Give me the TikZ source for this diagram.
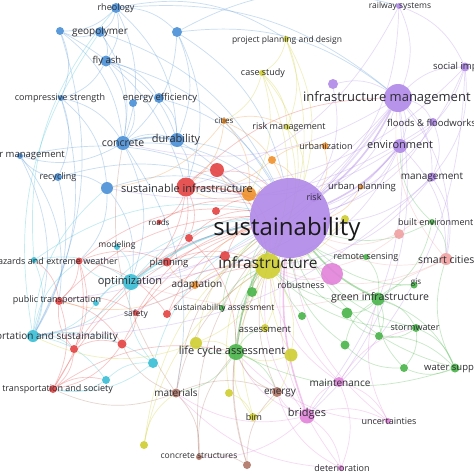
\documentclass[tikz,border=0pt]{standalone}
\usepackage{fontspec}
\setmainfont{Open Sans}
\usetikzlibrary{backgrounds}
\definecolor{cB}{RGB}{74,144,214}
\definecolor{cR}{RGB}{228,66,66}
\definecolor{cC}{RGB}{56,190,214}
\definecolor{cO}{RGB}{240,146,44}
\definecolor{cY}{RGB}{206,206,48}
\definecolor{cP}{RGB}{176,136,232}
\definecolor{cG}{RGB}{72,180,72}
\definecolor{cK}{RGB}{226,130,218}
\definecolor{cS}{RGB}{240,160,160}
\definecolor{cN}{RGB}{176,116,100}
\definecolor{txt}{RGB}{45,45,50}
\tikzset{
  kw/.style={circle,inner sep=0pt,fill opacity=0.9,draw=none},
  lb/.style={text=txt,inner sep=0pt,font=\fontsize{#1}{#1}\selectfont},
  ed/.style={draw=#1,draw opacity=0.3,line width=0.7pt},
  edT/.style={draw=#1,draw opacity=0.45,line width=1.6pt},
}
\begin{document}
\begin{tikzpicture}[x=1pt,y=-1pt]
\useasboundingbox (0,0) rectangle (474,474);
\clip (0,0) rectangle (474,474);
% ---- nodes: blue
\node[kw,fill=cB,minimum size=10pt] (rheo) at (116,8) {};
\node[kw,fill=cB,minimum size=8pt] (b1) at (60,31) {};
\node[kw,fill=cB,minimum size=10pt] (geo) at (100,32) {};
\node[kw,fill=cB,minimum size=10pt] (b2) at (177,32) {};
\node[kw,fill=cB,minimum size=11pt] (fly) at (106,61) {};
\node[kw,fill=cB,minimum size=6pt] (comp) at (61,98) {};
\node[kw,fill=cB,minimum size=8pt] (b3) at (133,103) {};
\node[kw,fill=cB,minimum size=10pt] (ener) at (159,98) {};
\node[kw,fill=cB,minimum size=14pt] (conc) at (123,143) {};
\node[kw,fill=cB,minimum size=14pt] (dura) at (177,140) {};
\node[kw,fill=cB,minimum size=6pt] (watm) at (20,156) {};
\node[kw,fill=cB,minimum size=8pt] (recy) at (58,177) {};
\node[kw,fill=cB,minimum size=12pt] (b4) at (107,188) {};
% red
\node[kw,fill=cR,minimum size=14pt] (r1) at (217,170) {};
\node[kw,fill=cR,minimum size=19pt] (sinf) at (186,187) {};
\node[kw,fill=cR,minimum size=8pt] (r2) at (216,211) {};
\node[kw,fill=cR,minimum size=5pt] (roads) at (159,222) {};
\node[kw,fill=cR,minimum size=8pt] (r3) at (189,238) {};
\node[kw,fill=cR,minimum size=10pt] (r4) at (225,256) {};
\node[kw,fill=cR,minimum size=7pt] (haz) at (79,261) {};
\node[kw,fill=cR,minimum size=9pt] (plan) at (167,262) {};
\node[kw,fill=cR,minimum size=8pt] (pubt) at (59,301) {};
\node[kw,fill=cR,minimum size=6pt] (safe) at (136,313) {};
\node[kw,fill=cR,minimum size=8pt] (r5) at (167,314) {};
\node[kw,fill=cR,minimum size=8pt] (r6) at (74,349) {};
\node[kw,fill=cR,minimum size=9pt] (r7) at (122,344) {};
\node[kw,fill=cR,minimum size=8pt] (tsoc) at (53,389) {};
% cyan
\node[kw,fill=cC,minimum size=6pt] (c1) at (34,260) {};
\node[kw,fill=cC,minimum size=6pt] (model) at (117,247) {};
\node[kw,fill=cC,minimum size=16pt] (opt) at (131,282) {};
\node[kw,fill=cC,minimum size=6pt] (c2) at (96,303) {};
\node[kw,fill=cC,minimum size=12pt] (tsus) at (33,336) {};
\node[kw,fill=cC,minimum size=10pt] (c3) at (153,363) {};
\node[kw,fill=cC,minimum size=8pt] (c4) at (106,380) {};
% orange
\node[kw,fill=cO,minimum size=6pt] (cities) at (224,121) {};
\node[kw,fill=cO,minimum size=8pt] (o1) at (272,160) {};
\node[kw,fill=cO,minimum size=14pt] (o2) at (249,194) {};
\node[kw,fill=cO,minimum size=7pt] (urbz) at (325,146) {};
\node[kw,fill=cO,minimum size=5pt] (upl) at (361,187) {};
\node[kw,fill=cO,minimum size=8pt] (adapt) at (195,285) {};
% purple
\node[kw,fill=cP,minimum size=80pt] (sust) at (290,218) {};
\node[kw,fill=cP,minimum size=6pt] (rail) at (399,6) {};
\node[kw,fill=cP,minimum size=10pt] (p1) at (333,84) {};
\node[kw,fill=cP,minimum size=28pt] (imgmt) at (398,98) {};
\node[kw,fill=cP,minimum size=9pt] (social) at (465,67) {};
\node[kw,fill=cP,minimum size=8pt] (flood) at (433,122) {};
\node[kw,fill=cP,minimum size=14pt] (env) at (400,146) {};
\node[kw,fill=cP,minimum size=9pt] (mgmt) at (432,177) {};
\node[kw,fill=cP,minimum size=10pt] (risk) at (314,197) {};
% yellow
\node[kw,fill=cY,minimum size=6pt] (ppd) at (286,39) {};
\node[kw,fill=cY,minimum size=6pt] (case) at (262,73) {};
\node[kw,fill=cY,minimum size=6pt] (riskm) at (287,127) {};
\node[kw,fill=cY,minimum size=26pt] (infra) at (268,266) {};
\node[kw,fill=cY,minimum size=8pt] (y1) at (345,219) {};
\node[kw,fill=cY,minimum size=12pt] (y2) at (196,343) {};
\node[kw,fill=cY,minimum size=8pt] (assess) at (265,328) {};
\node[kw,fill=cY,minimum size=13pt] (y3) at (291,355) {};
\node[kw,fill=cY,minimum size=8pt] (y4) at (229,393) {};
\node[kw,fill=cY,minimum size=8pt] (bim) at (253,417) {};
\node[kw,fill=cY,minimum size=8pt] (y5) at (144,445) {};
% green
\node[kw,fill=cG,minimum size=6pt] (ben) at (432,222) {};
\node[kw,fill=cG,minimum size=6pt] (rsens) at (366,257) {};
\node[kw,fill=cG,minimum size=7pt] (gis) at (414,285) {};
\node[kw,fill=cG,minimum size=13pt] (ginf) at (378,299) {};
\node[kw,fill=cG,minimum size=10pt] (g1) at (252,292) {};
\node[kw,fill=cG,minimum size=6pt] (sasse) at (222,308) {};
\node[kw,fill=cG,minimum size=8pt] (g2) at (302,316) {};
\node[kw,fill=cG,minimum size=11pt] (g3) at (347,313) {};
\node[kw,fill=cG,minimum size=8pt] (g4) at (379,336) {};
\node[kw,fill=cG,minimum size=9pt] (g6) at (345,345) {};
\node[kw,fill=cG,minimum size=8pt] (g5) at (404,368) {};
\node[kw,fill=cG,minimum size=8pt] (storm) at (416,328) {};
\node[kw,fill=cG,minimum size=9pt] (wsup) at (455,368) {};
\node[kw,fill=cG,minimum size=16pt] (lca) at (236,352) {};
% pink
\node[kw,fill=cK,minimum size=22pt] (pk) at (332,274) {};
\node[kw,fill=cK,minimum size=10pt] (maint) at (339,382) {};
\node[kw,fill=cK,minimum size=15pt] (bridges) at (307,416) {};
\node[kw,fill=cK,minimum size=6pt] (uncert) at (388,421) {};
\node[kw,fill=cK,minimum size=6pt] (deter) at (341,468) {};
% salmon
\node[kw,fill=cS,minimum size=10pt] (sal1) at (399,234) {};
\node[kw,fill=cS,minimum size=12pt] (smart) at (446,259) {};
% brown
\node[kw,fill=cN,minimum size=9pt] (mat) at (176,393) {};
\node[kw,fill=cN,minimum size=10pt] (energy) at (277,392) {};
\node[kw,fill=cN,minimum size=6pt] (cstr) at (199,457) {};
\node[kw,fill=cN,minimum size=8pt] (br1) at (247,465) {};
% ---- edges
\begin{pgfonlayer}{background}
\fill[white] (0,0) rectangle (474,474);
\foreach \a/\b in {rheo/geo,rheo/fly,rheo/b2,rheo/conc,rheo/dura,rheo/imgmt,b1/comp,b1/conc,b1/tsus,geo/fly,geo/conc,fly/conc,fly/dura,fly/ener,fly/sust,comp/conc,comp/recy,comp/b4,comp/tsus,ener/dura,ener/sust,b2/dura,b2/conc,b2/sust,b2/sinf,b2/imgmt,conc/dura,conc/sust,conc/watm,dura/sust,dura/sinf,recy/b4,recy/watm,recy/sust,b4/sust,b4/opt,watm/tsus,watm/pubt,b3/ener,b3/conc,conc/mat,geo/b1,rheo/b1,conc/opt,dura/infra,b4/haz,recy/tsus,fly/comp,rheo/ppd,geo/sust,b1/sinf,watm/sust,b2/rail}
  \draw[ed=cB] (\a) to[bend left=22] (\b);
\foreach \a/\b in {r1/sust,r2/sust,r3/sust,r4/sust,plan/sust,roads/sust,haz/pubt,haz/sust,haz/r6,pubt/tsoc,pubt/sust,pubt/r7,safe/r7,safe/sust,r5/sust,r6/tsoc,r6/r7,r7/tsoc,r7/sust,r6/sust,tsoc/c4,haz/plan,sinf/opt,r1/infra,sinf/r1,sinf/roads,sinf/plan,sinf/r3,pubt/safe,haz/r5,tsoc/sust,plan/infra,r5/infra,safe/infra,r6/pubt,haz/tsoc,sinf/imgmt,r3/lca,c1/pubt,tsoc/lca}
  \draw[ed=cR] (\a) to[bend left=22] (\b);
\foreach \a/\b in {c1/tsus,c1/opt,model/opt,opt/sust,opt/tsus,c2/tsus,c2/sust,tsus/r6,tsus/c3,tsus/c4,tsus/haz,c3/opt,c3/sust,c4/tsoc,c4/c3,tsus/b4,opt/haz,c1/rheo,tsus/geo,c3/tsoc,c2/opt,opt/infra,c1/sust}
  \draw[ed=cC] (\a) to[bend left=22] (\b);
\foreach \a/\b in {cities/sust,cities/o2,o1/sust,o2/sust,o2/sinf,urbz/sust,upl/sust,adapt/sust,adapt/infra,cities/riskm,o2/infra,o1/urbz,cities/sinf,adapt/plan,o2/r1,cities/b4,o1/sinf,adapt/pubt}
  \draw[ed=cO] (\a) to[bend left=22] (\b);
\foreach \a/\b in {ppd/case,ppd/sust,ppd/riskm,case/sust,case/infra,case/riskm,riskm/sust,infra/y2,infra/assess,infra/y3,y2/lca,y2/sust,assess/sust,y3/sust,y4/sust,bim/sust,y5/mat,y5/infra,y1/sust,y3/bim,y4/bim,ppd/infra,riskm/infra,case/o2,y5/sust,y2/tsus,bim/lca,y3/lca,y1/infra,case/cities}
  \draw[ed=cY] (\a) to[bend left=22] (\b);
\foreach \a/\b in {rail/imgmt,rail/sust,p1/imgmt,p1/sust,social/sust,social/env,flood/sust,env/sust,mgmt/sust,imgmt/social,imgmt/flood,imgmt/env,imgmt/mgmt,imgmt/risk,imgmt/bridges,env/infra,imgmt/conc,imgmt/smart,mgmt/smart,imgmt/haz,imgmt/maint,social/mgmt,env/smart,rail/social,imgmt/tsus,flood/mgmt,env/sinf,mgmt/infra,social/bridges,rail/sinf,imgmt/opt,imgmt/pubt,social/sinf,env/opt,flood/b4,mgmt/tsus}
  \draw[ed=cP] (\a) to[bend left=22] (\b);
\foreach \a/\b in {lca/y2,lca/assess,lca/energy,ginf/storm,ginf/gis,ginf/g3,ginf/g4,ginf/wsup,storm/g4,storm/wsup,storm/sust,g1/sust,g1/infra,sasse/sust,g2/sust,g3/sust,g4/g3,wsup/g5,rsens/sust,rsens/ginf,gis/sust,ben/sust,ben/smart,ben/ginf,g5/ginf,lca/mat,g6/ginf,g6/sust,storm/g5,wsup/sust,g5/g6,ginf/infra,lca/infra,g4/wsup,ben/env,sasse/infra,wsup/smart,wsup/lca,storm/infra}
  \draw[ed=cG] (\a) to[bend left=22] (\b);
\foreach \a/\b in {pk/sust,bridges/maint,bridges/deter,bridges/uncert,maint/sust,maint/deter,maint/uncert,uncert/sust,bridges/infra,bridges/energy,bridges/mat,bridges/cstr,deter/sust,uncert/ginf,pk/infra,maint/infra,bridges/lca,deter/energy,maint/storm,deter/mat,uncert/lca}
  \draw[ed=cK] (\a) to[bend left=22] (\b);
\foreach \a/\b in {smart/sust,sal1/sust,smart/imgmt,sal1/ben,smart/infra,sal1/infra,smart/opt}
  \draw[ed=cS] (\a) to[bend left=22] (\b);
\foreach \a/\b in {mat/sust,mat/cstr,mat/energy,energy/sust,cstr/br1,br1/energy,mat/conc,cstr/sust,energy/lca,br1/infra,mat/infra,mat/tsoc,cstr/lca,br1/sust,mat/r7}
  \draw[ed=cN] (\a) to[bend left=22] (\b);
% thick links
\draw[edT=cP] (imgmt) to[bend left=12] (sust);
\draw[edT=cR] (sinf) to[bend left=12] (sust);
\draw[edT=cY] (infra) to[bend left=12] (sust);
\draw[edT=cG] (lca) to[bend left=12] (sust);
\draw[edT=cK] (bridges) to[bend left=12] (sust);
\draw[edT=cG] (ginf) to[bend left=12] (sust);
\draw[edT=cO] (o2) to[bend left=12] (sust);
\draw[edT=cB] (conc) to[bend left=12] (dura);
\draw[edT=cC] (opt) to[bend left=12] (sust);
\draw[edT=cP] (env) to[bend left=12] (sust);
\end{pgfonlayer}
% ---- labels
\node[lb=9] (L1) at (116,8) {rheology};
\node[lb=10] (L2) at (100,32) {geopolymer};
\node[lb=9.5] (L3) at (107,61) {fly ash};
\node[lb=9] (L4) at (60,98) {compressive strength};
\node[lb=9.5] (L5) at (160,98) {energy efficiency};
\node[lb=10.5] (L6) at (123,143) {concrete};
\node[lb=11] (L7) at (176,140) {durability};
\node[lb=9.5,anchor=east] (L8) at (65,156) {water management};
\node[lb=9] (L9) at (58,177) {recycling};
\node[lb=11] (L10) at (187,188) {sustainable infrastructure};
\node[lb=8] (L11) at (159,222) {roads};
\node[lb=8.5] (L12) at (117,245) {modeling};
\node[lb=9,anchor=east] (L13) at (118,261) {hazards and extreme weather};
\node[lb=9.5] (L14) at (169,263) {planning};
\node[lb=11] (L15) at (130,282) {optimization};
\node[lb=10] (L16) at (197,285) {adaptation};
\node[lb=9] (L17) at (57,300) {public transportation};
\node[lb=8.5] (L18) at (136,314) {safety};
\node[lb=8.5] (L19) at (224,308) {sustainability assessment};
\node[lb=10,anchor=east] (L20) at (118,337) {transportation and sustainability};
\node[lb=9,anchor=east] (L21) at (113,389) {transportation and society};
\node[lb=10] (L22) at (176,393) {materials};
\node[lb=8.5] (L23) at (199,456) {concrete structures};
\node[lb=11] (L24) at (232,352) {life cycle assessment};
\node[lb=9.5] (L25) at (265,329) {assessment};
\node[lb=10] (L26) at (280,393) {energy};
\node[lb=9] (L27) at (254,417) {bim};
\node[lb=11] (L28) at (307,414) {bridges};
\node[lb=10] (L29) at (340,383) {maintenance};
\node[lb=9] (L30) at (389,421) {uncertainties};
\node[lb=9] (L31) at (342,468) {deterioration};
\node[lb=9] (L32) at (415,328) {stormwater};
\node[lb=9.5,anchor=west] (L33) at (424,368) {water supply};
\node[lb=10.5] (L34) at (380,298) {green infrastructure};
\node[lb=8] (L35) at (416,283) {gis};
\node[lb=9] (L36) at (366,257) {remote sensing};
\node[lb=9] (L37) at (301,285) {robustness};
\node[lb=15.5,text=black!85] (L38) at (268,263) {infrastructure};
\node[lb=24,text=black!90] (L39) at (287,229) {sustainability};
\node[lb=8] (L40) at (224,121) {cities};
\node[lb=9] (L41) at (289,127) {risk management};
\node[lb=9] (L42) at (326,146) {urbanization};
\node[lb=9.5] (L43) at (362,187) {urban planning};
\node[lb=9] (L44) at (314,197) {risk};
\node[lb=9] (L45) at (263,73) {case study};
\node[lb=8.5] (L46) at (287,40) {project planning and design};
\node[lb=8.5] (L47) at (400,6) {railway systems};
\node[lb=13,anchor=west] (L48) at (303,98) {infrastructure management};
\node[lb=9.5,anchor=west] (L49) at (433,67) {social impact};
\node[lb=9.5,anchor=west] (L50) at (387,123) {floods \& floodworks};
\node[lb=11] (L51) at (400,145) {environment};
\node[lb=10] (L52) at (432,177) {management};
\node[lb=9,anchor=west] (L53) at (398,222) {built environment};
\node[lb=10.5,anchor=west] (L54) at (418,260) {smart cities};
\end{tikzpicture}
\end{document}
